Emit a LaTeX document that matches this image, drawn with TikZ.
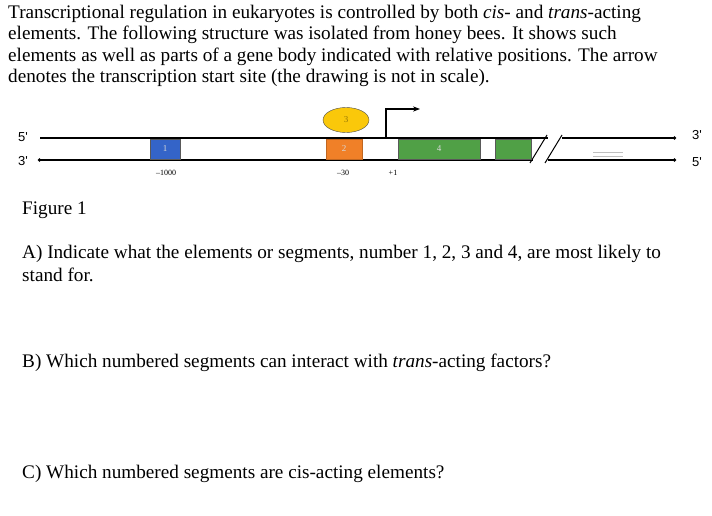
\documentclass[tikz,border=0pt]{standalone}
\usepackage{fontspec}
\setmainfont{Liberation Serif}
\newfontfamily\lsans{Liberation Sans}
\usetikzlibrary{arrows.meta,shapes.geometric}
\definecolor{bluebox}{RGB}{52,100,200}
\definecolor{orangebox}{RGB}{240,128,40}
\definecolor{greenbox}{RGB}{80,160,70}
\definecolor{yellowell}{RGB}{250,200,10}
\tikzset{
  txt/.style={anchor=west, inner sep=0pt, font=\fontsize{19.2}{21}\selectfont},
  strand/.style={line width=1.4pt},
  endlabel/.style={inner sep=0pt, font=\lsans\fontsize{13}{15}\selectfont},
  poslabel/.style={inner sep=0pt, font=\fontsize{8}{9}\selectfont},
  elem/.style={draw=gray!70!black, line width=0.6pt, minimum height=20pt, inner sep=0pt, font=\fontsize{9}{10}\selectfont, text=white!85!black}
}
\begin{document}
\begin{tikzpicture}[x=1pt,y=-1pt]
\useasboundingbox (0,0) rectangle (712,516);
% paragraph
\node[txt] (p1) at (8,14) {Transcriptional regulation in eukaryotes is controlled by both \textit{cis}- and \textit{trans}-acting};
\node[txt] (p2) at (8,35) {elements. The following structure was isolated from honey bees. It shows such};
\node[txt] (p3) at (8,57) {elements as well as parts of a gene body indicated with relative positions. The arrow};
\node[txt] (p4) at (8,78) {denotes the transcription start site (the drawing is not in scale).};
% strands
\coordinate (t0) at (40,138);
\coordinate (t1) at (548,138);
\coordinate (t2) at (562,138);
\coordinate (t3) at (676,138);
\coordinate (b0) at (38,160);
\coordinate (b1) at (533,160);
\coordinate (b2) at (548,160);
\coordinate (b3) at (676,160);
\draw[strand] (t0) -- (t1);
\draw[strand, -{Circle[length=3pt]}] (t2) -- (t3);
\draw[strand, {Circle[length=3pt]}-] (b0) -- (b1);
\draw[strand, -{Circle[length=3pt]}] (b2) -- (b3);
% break marks
\coordinate (k1a) at (530,163);
\coordinate (k1b) at (547,135);
\coordinate (k2a) at (545,163);
\coordinate (k2b) at (562,135);
\draw[line width=1pt] (k1a) -- (k1b);
\draw[line width=1pt] (k2a) -- (k2b);
% small gray dash after break
\coordinate (g1) at (593,152);
\coordinate (g2) at (623,152);
\coordinate (g3) at (593,156);
\coordinate (g4) at (623,156);
\draw[gray!50, line width=0.8pt] (g1) -- (g2);
\draw[gray!50, line width=0.8pt] (g3) -- (g4);
% end labels
\node[endlabel] (l5) at (23,137) {5'};
\node[endlabel] (l3) at (23,161) {3'};
\node[endlabel] (r3) at (697,135) {3'};
\node[endlabel] (r5) at (697,162) {5'};
% elements
\node[elem, fill=bluebox, minimum width=30pt] (e1) at (165,149) {1};
\node[elem, fill=orangebox, minimum width=36pt, draw=orangebox!80!black] (e2) at (344,149) {2};
\node[elem, fill=greenbox, minimum width=82pt] (e4) at (439,149) {4};
\node[elem, fill=greenbox, minimum width=36pt] (e5) at (513,149) {};
\node[ellipse, draw=gray!60!black, fill=yellowell, minimum width=46pt, minimum height=25pt, inner sep=0pt, font=\fontsize{9}{10}\selectfont, text=yellowell!60!black] (e3) at (346,120) {3};
% TSS arrow
\coordinate (s0) at (386,137);
\coordinate (s1) at (386,109);
\coordinate (s2) at (420,109);
\draw[line width=1.3pt, -{Stealth[length=7pt]}] (s0) -- (s1) -- (s2);
% positions
\node[poslabel] (x1) at (166,173) {--1000};
\node[poslabel] (x2) at (343,173) {--30};
\node[poslabel] (x3) at (393,173) {+1};
% questions
\node[txt] (fig) at (22,210) {Figure 1};
\node[txt] (qa1) at (22,254) {A) Indicate what the elements or segments, number 1, 2, 3 and 4, are most likely to};
\node[txt] (qa2) at (22,275) {stand for.};
\node[txt] (qb) at (22,363) {B) Which numbered segments can interact with \textit{trans}-acting factors?};
\node[txt] (qc) at (22,474) {C) Which numbered segments are cis-acting elements?};
\end{tikzpicture}
\end{document}
